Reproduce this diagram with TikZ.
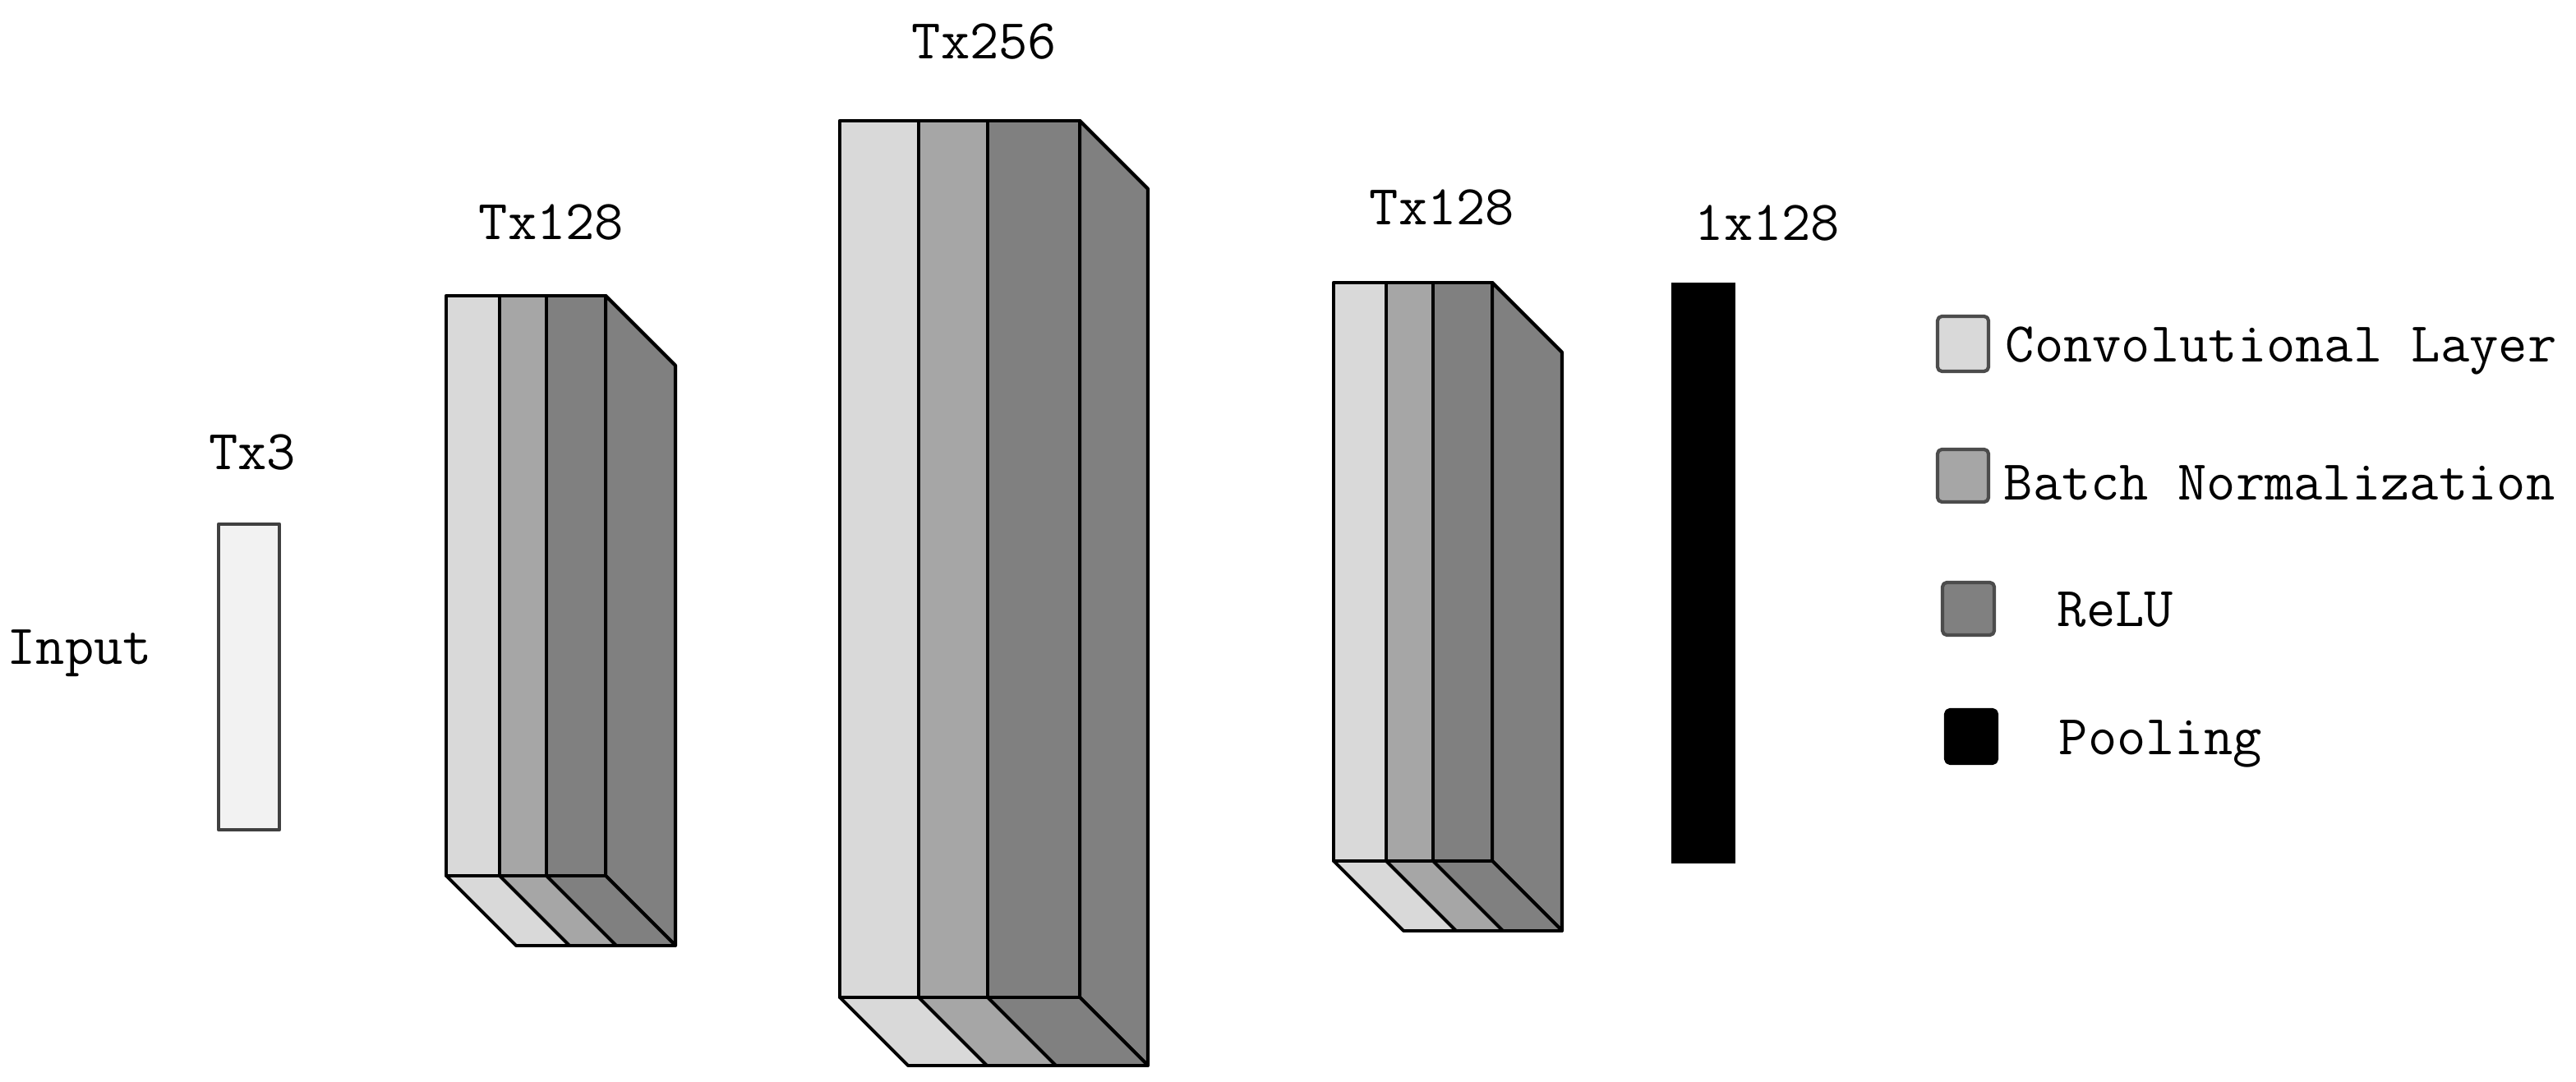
\documentclass[tikz,border=0pt]{standalone}
\usepackage{tikz}

\definecolor{convgray}{HTML}{D9D9D9}
\definecolor{bngray}{HTML}{A6A6A6}
\definecolor{relugray}{HTML}{808080}
\definecolor{ingray}{HTML}{F2F2F2}

\begin{document}
\begin{tikzpicture}[font=\ttfamily\fontsize{19.5}{23}\selectfont,line join=round]
\useasboundingbox (0,0) rectangle (31.35,13.17);
% input
\draw[line width=1.2pt,draw=black!75,fill=ingray] (2.66,3.07) rectangle (3.40,6.79);
\node[anchor=base west,inner sep=0pt] (input) at (0.08,5.08) {Input};
\node[anchor=base] (tx3) at (3.07,7.45) {Tx3};
% conv + bn + relu blocks
\foreach \xa/\xb/\xc/\xd/\yt/\yb/\d in {5.43/6.08/6.65/7.37/9.57/2.51/0.85,
    10.22/11.18/12.02/13.14/11.70/1.03/0.83, 16.23/16.87/17.44/18.16/9.73/2.69/0.85}{
  \draw[line width=1.2pt,fill=relugray] (\xd,\yt) -- (\xd+\d,\yt-\d) -- (\xd+\d,\yb-\d) -- (\xd,\yb) -- cycle;
  \draw[line width=1.1pt,fill=convgray] (\xa,\yb) -- (\xb,\yb) -- (\xb+\d,\yb-\d) -- (\xa+\d,\yb-\d) -- cycle;
  \draw[line width=1.1pt,fill=bngray] (\xb,\yb) -- (\xc,\yb) -- (\xc+\d,\yb-\d) -- (\xb+\d,\yb-\d) -- cycle;
  \draw[line width=1.1pt,fill=relugray] (\xc,\yb) -- (\xd,\yb) -- (\xd+\d,\yb-\d) -- (\xc+\d,\yb-\d) -- cycle;
  \draw[line width=1.2pt,fill=convgray] (\xa,\yb) rectangle (\xb,\yt);
  \draw[line width=1.2pt,fill=bngray] (\xb,\yb) rectangle (\xc,\yt);
  \draw[line width=1.2pt,fill=relugray] (\xc,\yb) rectangle (\xd,\yt);
}
\node[anchor=base] (blk1) at (6.71,10.25) {Tx128};
\node[anchor=base] (blk2) at (11.98,12.45) {Tx256};
\node[anchor=base] (blk3) at (17.55,10.43) {Tx128};
% pooling
\fill[black] (20.34,2.66) rectangle (21.12,9.73);
\node[anchor=base] (pool) at (21.51,10.24) {1x128};
% legend
\draw[rounded corners=1.5pt,line width=1.2pt,draw=black!70,fill=convgray] (23.58,8.65) rectangle (24.20,9.32);
\draw[rounded corners=1.5pt,line width=1.2pt,draw=black!70,fill=bngray] (23.58,7.06) rectangle (24.20,7.70);
\draw[rounded corners=1.5pt,line width=1.2pt,draw=black!70,fill=relugray] (23.64,5.44) rectangle (24.27,6.08);
\draw[rounded corners=1.5pt,line width=1.2pt,fill=black] (23.68,3.88) rectangle (24.30,4.53);
\node[anchor=base west,inner sep=0pt] (lconv) at (24.40,8.76) {Convolutional Layer};
\node[anchor=base west,inner sep=0pt] (lbn) at (24.38,7.08) {Batch Normalization};
\node[anchor=base west,inner sep=0pt] (lrelu) at (25.03,5.54) {ReLU};
\node[anchor=base west,inner sep=0pt] (lpool) at (25.05,3.98) {Pooling};
\end{tikzpicture}
\end{document}
